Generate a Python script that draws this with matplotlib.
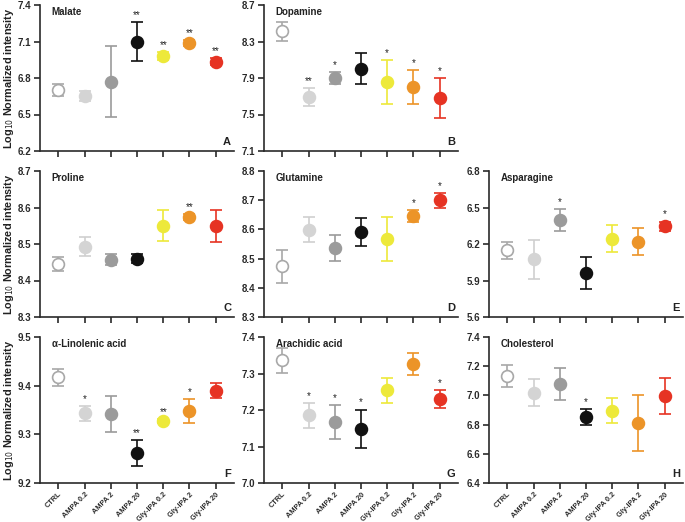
import numpy as np
import matplotlib
matplotlib.use("Agg")
import matplotlib.pyplot as plt

plt.rcParams["font.family"] = ["Liberation Sans", "DejaVu Sans"]

groups = ["CTRL", "AMPA 0.2", "AMPA 2", "AMPA 20", "Gly-IPA 0.2", "Gly-IPA 2", "Gly-IPA 20"]

malate_mean = [6.70, 6.65, 6.77, 7.10, 6.98, 7.09, 6.935]
malate_err = [0.05, 0.04, 0.29, 0.16, 0.03, 0.025, 0.03]
malate_sig = ["", "", "", "**", "**", "**", "**"]

dopamine_mean = [8.41, 7.69, 7.90, 8.00, 7.86, 7.80, 7.68]
dopamine_err = [0.105, 0.095, 0.065, 0.17, 0.24, 0.19, 0.22]
dopamine_sig = ["", "**", "*", "", "*", "*", "*"]

proline_mean = [8.445, 8.493, 8.457, 8.460, 8.550, 8.574, 8.549]
proline_err = [0.02, 0.025, 0.015, 0.012, 0.042, 0.008, 0.043]
proline_sig = ["", "", "", "", "", "**", ""]

glutamine_mean = [8.474, 8.599, 8.537, 8.592, 8.568, 8.647, 8.699]
glutamine_err = [0.056, 0.043, 0.045, 0.048, 0.075, 0.02, 0.025]
glutamine_sig = ["", "", "", "", "", "*", "*"]

asparagine_mean = [6.149, 6.075, 6.399, 5.962, 6.243, 6.218, 6.344]
asparagine_err = [0.07, 0.16, 0.09, 0.13, 0.11, 0.11, 0.04]
asparagine_sig = ["", "", "*", "", "", "", "*"]

linolenic_mean = [9.417, 9.343, 9.342, 9.262, 9.328, 9.348, 9.390]
linolenic_err = [0.017, 0.015, 0.037, 0.027, 0.004, 0.024, 0.015]
linolenic_sig = ["", "*", "", "**", "**", "*", ""]

arachidic_mean = [7.336, 7.185, 7.167, 7.148, 7.254, 7.326, 7.230]
arachidic_err = [0.035, 0.035, 0.047, 0.053, 0.035, 0.029, 0.025]
arachidic_sig = ["", "*", "*", "*", "", "", "*"]

cholesterol_mean = [7.133, 7.019, 7.076, 6.852, 6.895, 6.811, 6.996]
cholesterol_err = [0.077, 0.093, 0.11, 0.054, 0.084, 0.19, 0.125]
cholesterol_sig = ["", "", "", "*", "", "", ""]

face_colors = ["white", "#d4d4d4", "#9b9b9b", "#111111", "#ede93a", "#ec9428", "#e63323"]
line_colors = ["#a8a8a8", "#cfcfcf", "#9b9b9b", "#111111", "#ede93a", "#ec9428", "#e63323"]

# (title, mean, err, sig, ylim, ystep, letter, row, col)
panels = [
    ("Malate", malate_mean, malate_err, malate_sig, (6.2, 7.4), 0.3, "A", 0, 0),
    ("Dopamine", dopamine_mean, dopamine_err, dopamine_sig, (7.1, 8.7), 0.4, "B", 0, 1),
    ("Proline", proline_mean, proline_err, proline_sig, (8.3, 8.7), 0.1, "C", 1, 0),
    ("Glutamine", glutamine_mean, glutamine_err, glutamine_sig, (8.3, 8.8), 0.1, "D", 1, 1),
    ("Asparagine", asparagine_mean, asparagine_err, asparagine_sig, (5.6, 6.8), 0.3, "E", 1, 2),
    ("\u03b1-Linolenic acid", linolenic_mean, linolenic_err, linolenic_sig, (9.2, 9.5), 0.1, "F", 2, 0),
    ("Arachidic acid", arachidic_mean, arachidic_err, arachidic_sig, (7.0, 7.4), 0.1, "G", 2, 1),
    ("Cholesterol", cholesterol_mean, cholesterol_err, cholesterol_sig, (6.4, 7.4), 0.2, "H", 2, 2),
]

W, H = 685, 522
fig = plt.figure(figsize=(W / 100, H / 100), dpi=100)

col_left = [40, 264, 489]
ax_w = 194
row_top = [5, 171, 337]
ax_h = 146
axis_col = "#2a2a2a"

x = np.arange(len(groups))
for title, mean, err, sig, ylim, ystep, letter, r, c in panels:
    ax = fig.add_axes([col_left[c] / W, 1 - (row_top[r] + ax_h) / H, ax_w / W, ax_h / H])
    for i in x:
        ax.errorbar(i, mean[i], yerr=err[i], fmt="none", ecolor=line_colors[i],
                    elinewidth=1.2, capsize=4, capthick=1.2, zorder=2)
        edge = line_colors[i] if i == 0 else face_colors[i]
        ax.plot(i, mean[i], "o", ms=8.5, mfc=face_colors[i], mec=edge, mew=1.2, zorder=3)
        if sig[i]:
            ax.annotate(sig[i], (i, mean[i] + err[i]), xytext=(0, 1.5), textcoords="offset points",
                        ha="center", va="bottom", fontsize=7, color="#222222")
    ax.set_xlim(-0.7, 6.7)
    ax.set_ylim(*ylim)
    ticks = np.arange(ylim[0], ylim[1] + ystep / 2, ystep)
    ax.set_yticks(ticks)
    ax.set_yticklabels(["%.1f" % t for t in ticks])
    ax.set_xticks(x)
    if r == 2:
        ax.set_xticklabels(groups, rotation=45, ha="right", rotation_mode="anchor",
                           fontsize=5.3, fontweight="bold", color=axis_col)
    else:
        ax.set_xticklabels([])
    for s in ["top", "right"]:
        ax.spines[s].set_visible(False)
    for s in ["left", "bottom"]:
        ax.spines[s].set_linewidth(1.2)
        ax.spines[s].set_color(axis_col)
    ax.tick_params(axis="y", length=4, width=1.2, color=axis_col, labelcolor=axis_col,
                   labelsize=7, pad=2.5)
    ax.tick_params(axis="x", length=4, width=1.2, color=axis_col, pad=1.8)
    for lab in ax.get_yticklabels():
        lab.set_fontweight("bold")
    ax.text(0.06, 0.985, title, transform=ax.transAxes, ha="left", va="top",
            fontsize=7, fontweight="bold", color="#222222")
    ax.text(0.985, 0.03, letter, transform=ax.transAxes, ha="right", va="bottom",
            fontsize=8, fontweight="bold", color="#222222")
    if c == 0:
        ax.set_ylabel("Log$_{10}$ Normalized intensity", fontsize=7.8, fontweight="bold",
                      color="#222222", labelpad=1)

fig.savefig("out.png", dpi=100)
